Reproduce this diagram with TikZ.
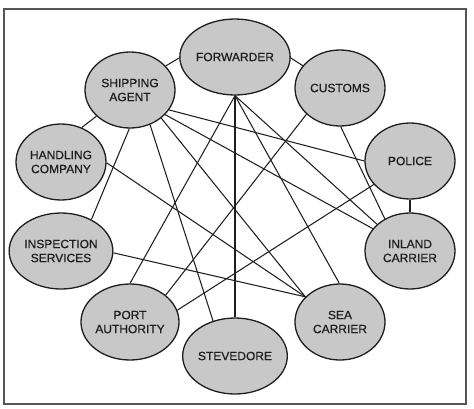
\documentclass[tikz,border=0pt]{standalone}
\usepackage{fontspec}
\newfontfamily\labelfont{Liberation Sans}[FakeBold=0.7]
\usetikzlibrary{shapes.geometric}
\definecolor{nodefill}{RGB}{200,200,200}
\definecolor{ink}{RGB}{30,30,30}
\definecolor{framecol}{RGB}{85,85,85}
\begin{document}
\begin{tikzpicture}[x=1pt,y=-1pt,
  actor/.style={ellipse, draw=ink, line width=1.3pt, fill=nodefill,
    minimum width=90pt, minimum height=76pt, inner sep=0pt, align=center,
    font=\labelfont\fontsize{12}{14}\selectfont, text=ink},
  link/.style={draw=ink, line width=1.05pt},
  framebox/.style={draw=framecol, line width=1.5pt}]
\useasboundingbox (0,0) rectangle (474,408);
\draw[framebox] (4,9) rectangle (466,404);

\node[actor] (fw) at (235,57) {FORWARDER};
\node[actor] (sa) at (130,90) {SHIPPING\\AGENT};
\node[actor] (cu) at (340,88) {CUSTOMS};
\node[actor] (hc) at (61,162) {HANDLING\\COMPANY};
\node[actor] (po) at (410,161) {POLICE};
\node[actor] (is) at (61,251) {INSPECTION\\SERVICES};
\node[actor] (ic) at (410,251) {INLAND\\CARRIER};
\node[actor] (pa) at (130,322) {PORT\\AUTHORITY};
\node[actor] (sc) at (340,322) {SEA\\CARRIER};
\node[actor] (st) at (235,356) {STEVEDORE};

\draw[link] (fw.181) -- (sa.34);
\draw[link] (fw.359) -- (cu.149);
\draw[link] (fw.south) -- (st.north);
\draw[link] (fw.south) -- (pa.north);
\draw[link] (fw.south) -- (sc.91);
\draw[link] (fw.south) -- (ic.141);
\draw[link] (sa.218) -- (hc.59);
\draw[link] (sa.269) -- (is.46);
\draw[link] (sa.300) -- (st.122);
\draw[link] (sa.318) -- (sc.144);
\draw[link] (sa.333) -- (po.180);
\draw[link] (sa.325) -- (ic.149);
\draw[link] (cu.271) -- (ic.128);
\draw[link] (cu.218) -- (pa.37);
\draw[link] (po.270) -- (ic.90);
\draw[link] (po.213) -- (pa.14);
\draw[link] (hc.359) -- (sc.144);
\draw[link] (is.358) -- (sc.144);
\end{tikzpicture}
\end{document}
